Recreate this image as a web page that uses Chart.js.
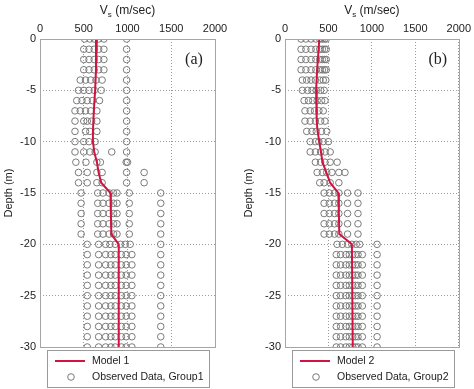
<!DOCTYPE html>
<html><head><meta charset="utf-8">
<script src="https://cdn.jsdelivr.net/npm/chart.js@4"></script>
<style>
html,body{margin:0;padding:0;background:#fff;}
#wrap{position:relative;width:474px;height:389px;overflow:hidden;}
canvas{position:absolute;top:0;}
</style></head><body>
<div id="wrap">
<canvas id="c1" width="240" height="389" style="left:0px"></canvas>
<canvas id="c2" width="234" height="389" style="left:240px"></canvas>
</div>
<script>
// ---------- data ----------
const xTickValues = [0, 500, 1000, 1500, 2000];
const yTickValues = [0, -5, -10, -15, -20, -25, -30];
const depths = [0,-1,-2,-3,-4,-5,-6,-7,-8,-9,-10,-11,-12,-13,-14,-15,-16,-17,-18,-19,-20,-21,-22,-23,-24,-25,-26,-27,-28,-29,-30];

const model1Label = 'Model 1';
const obs1Label = 'Observed Data, Group1';
const model1Depth = [0, -3, -5, -7, -9, -10, -11, -12, -13, -14, -15, -17, -19, -20, -30];
const model1Vs    = [650, 640, 630, 615, 605, 605, 620, 650, 670, 700, 805, 810, 815, 900, 900];
const group1Rows = [
  [510,570,620,670,730,990],
  [500,560,620,670,730,990],
  [500,560,620,670,730,990],
  [500,560,620,670,730,990],
  [460,520,580,640,710,990],
  [440,500,560,620,700,990],
  [420,480,540,600,680,990],
  [400,460,520,580,650,990],
  [400,500,540,590,650,990],
  [400,520,570,650,990],
  [400,500,560,630,990],
  [400,500,570,630,820,990],
  [410,525,650,690,985,1000],
  [440,540,650,710,990,1190],
  [440,540,650,710,990,1190],
  [470,660,720,790,840,880,1020,1380],
  [470,660,720,790,840,880,1020,1380],
  [470,660,720,790,840,880,1020,1380],
  [470,660,720,790,840,880,1020,1380],
  [470,660,720,790,840,880,1020,1380],
  [540,670,750,800,860,920,975,1030,1380],
  [540,670,750,810,860,930,985,1050,1380],
  [540,670,750,810,860,930,985,1050,1380],
  [540,670,750,810,860,930,985,1050,1380],
  [540,670,750,810,860,930,985,1050,1380],
  [540,670,750,810,860,930,985,1050,1380],
  [540,670,750,810,860,930,985,1050,1380],
  [540,670,750,810,860,930,985,1050,1380],
  [540,670,750,810,860,930,985,1050,1380],
  [540,670,750,810,860,930,985,1050,1380],
  [540,670,750,810,860,930,985,1050,1380]
];

const model2Label = 'Model 2';
const obs2Label = 'Observed Data, Group2';
const model2Depth = [0, -3, -5, -8, -9, -10, -12, -14, -15, -17, -19, -20, -30];
const model2Vs    = [395, 370, 358, 365, 375, 395, 432, 520, 615, 620, 625, 770, 780];
const group2Rows = [
  [185,240,300,355,400,430,455,475],
  [185,240,300,355,400,430,455,475],
  [185,240,300,355,400,430,455,475],
  [185,240,300,355,400,430,455,475],
  [200,250,300,350,400,440,470],
  [200,260,310,360,410,450],
  [220,270,320,370,420,460],
  [230,290,340,390,440],
  [230,290,350,410,460],
  [250,310,360,420,480],
  [290,350,390,440,500],
  [290,350,410,460,520],
  [350,410,460,520,600],
  [370,430,480,540,620,690],
  [400,450,520,620],
  [450,510,570,620,720,840],
  [450,510,570,620,720,840],
  [450,510,570,620,720,840],
  [450,510,570,620,720,840],
  [450,510,570,620,720,840],
  [600,660,720,770,820,860,1060],
  [590,640,700,740,780,810,840,890,1060],
  [590,640,700,740,780,810,840,890,1060],
  [590,640,700,740,780,810,840,890,1060],
  [590,640,700,740,780,810,840,890,1060],
  [590,640,700,740,780,810,840,890,1060],
  [590,640,700,740,780,810,840,890,1060],
  [590,640,700,740,780,810,840,890,1060],
  [590,640,700,740,780,810,840,890,1060],
  [590,640,700,740,780,810,840,890,1060],
  [590,640,700,740,780,810,840,890,1060]
];

const xTitleMain = 'V';
const xTitleSub = 's';
const xTitleRest = ' (m/sec)';
const yTitle = 'Depth (m)';

// ---------- styling ----------
const FONT = "'Liberation Sans', Arial, sans-serif";
const LINE_COLOR = '#cf1442';
const PT_COLOR = '#7a7a7a';
const GRID_COLOR = '#9a9a9a';
const AXIS_COLOR = '#a6a6a6';

function rowsToPoints(rows){
  const pts = [];
  rows.forEach((r,i)=>r.forEach(v=>pts.push({x:v, y:depths[i]})));
  return pts;
}
function modelPoints(d, v){ return d.map((dd,i)=>({x:v[i], y:dd})); }

function panelPlugin(letter){
  return {
    id:'panelDeco',
    afterDraw(chart){
      const ctx = chart.ctx, a = chart.chartArea;
      ctx.save();
      // x title with subscript
      const cx = (a.left + a.right)/2, ty = 14;
      ctx.fillStyle = '#222';
      ctx.textBaseline = 'alphabetic';
      ctx.font = '12px ' + FONT;
      const w1 = ctx.measureText(xTitleMain).width;
      const w3 = ctx.measureText(xTitleRest).width;
      ctx.font = '8px ' + FONT;
      const w2 = ctx.measureText(xTitleSub).width;
      let x0 = cx - (w1+w2+w3)/2;
      ctx.textAlign = 'left';
      ctx.font = '12px ' + FONT;
      ctx.fillText(xTitleMain, x0, ty);
      ctx.font = '8px ' + FONT;
      ctx.fillText(xTitleSub, x0 + w1, ty + 3);
      ctx.font = '12px ' + FONT;
      ctx.fillText(xTitleRest, x0 + w1 + w2, ty);
      // panel letter
      ctx.font = "16px 'Liberation Serif', 'Times New Roman', serif";
      ctx.textAlign = 'center';
      ctx.textBaseline = 'middle';
      ctx.fillText(letter, a.right - 21, a.top + 21);
      // legend
      const ds = chart.data.datasets;
      const bx = a.left + 7, by = a.bottom + 3, bw = 162, bh = 37;
      ctx.fillStyle = '#fff';
      ctx.fillRect(bx, by, bw, bh);
      ctx.strokeStyle = '#9a9a9a';
      ctx.lineWidth = 1;
      ctx.strokeRect(bx + 0.5, by + 0.5, bw, bh);
      ctx.strokeStyle = ds[0].borderColor;
      ctx.lineWidth = 2;
      ctx.beginPath();
      ctx.moveTo(bx + 8, by + 11);
      ctx.lineTo(bx + 38, by + 11);
      ctx.stroke();
      ctx.strokeStyle = ds[1].borderColor;
      ctx.lineWidth = 1;
      ctx.beginPath();
      ctx.arc(bx + 24, by + 27, 3.3, 0, Math.PI*2);
      ctx.stroke();
      ctx.fillStyle = '#222';
      ctx.font = '10.5px ' + FONT;
      ctx.textAlign = 'left';
      ctx.textBaseline = 'middle';
      ctx.fillText(ds[0].label, bx + 45, by + 11);
      ctx.fillText(ds[1].label, bx + 45, by + 27);
      ctx.restore();
    }
  };
}

function makeChart(id, mLabel, mDepth, mVs, oLabel, rows, letter, leftW, rightPad){
  return new Chart(document.getElementById(id), {
    type:'scatter',
    data:{
      datasets:[
        {label:mLabel, data:modelPoints(mDepth, mVs), showLine:true, borderColor:LINE_COLOR, backgroundColor:LINE_COLOR, borderWidth:2, pointRadius:0, tension:0},
        {label:oLabel, data:rowsToPoints(rows), showLine:false, borderColor:PT_COLOR, backgroundColor:'rgba(0,0,0,0)', borderWidth:1, pointRadius:3.3, pointStyle:'circle'}
      ]
    },
    options:{
      responsive:false, animation:false, devicePixelRatio:1,
      layout:{padding:{left:0, right:rightPad, top:0, bottom:42}},
      plugins:{legend:{display:false}, tooltip:{enabled:false}},
      scales:{
        x:{
          type:'linear', position:'top', min:0, max:2000,
          afterBuildTicks(s){ s.ticks = xTickValues.map(v=>({value:v})); },
          afterFit(s){ s.height = 39; },
          grid:{color:GRID_COLOR, lineWidth:1, drawTicks:false},
          border:{display:false, dash:[1,2]},
          ticks:{color:'#222', font:{family:FONT, size:11}, padding:3, maxRotation:0, callback:(v)=>String(v)},
        },
        y:{
          type:'linear', min:-30, max:0,
          afterBuildTicks(s){ s.ticks = yTickValues.map(v=>({value:v})); },
          afterFit(s){ s.width = leftW; },
          grid:{color:GRID_COLOR, lineWidth:1, drawTicks:false},
          border:{display:false, dash:[1,2]},
          ticks:{color:'#222', font:{family:FONT, size:11}, padding:4, callback:(v)=>String(v)},
          title:{display:true, text:yTitle, color:'#222', font:{family:FONT, size:11}, padding:{top:2, bottom:0}}
        }
      }
    },
    plugins:[
      {id:'frame', afterDatasetsDraw(chart){
        const ctx = chart.ctx, a = chart.chartArea;
        ctx.save();
        ctx.strokeStyle = AXIS_COLOR; ctx.lineWidth = 1;
        ctx.strokeRect(Math.round(a.left)+0.5, Math.round(a.top)+0.5, Math.round(a.right-a.left), Math.round(a.bottom-a.top));
        ctx.restore();
      }},
      panelPlugin(letter)
    ]
  });
}

makeChart('c1', model1Label, model1Depth, model1Vs, obs1Label, group1Rows, '(a)', 40, 25);
makeChart('c2', model2Label, model2Depth, model2Vs, obs2Label, group2Rows, '(b)', 45, 15);
</script>
</body></html>
